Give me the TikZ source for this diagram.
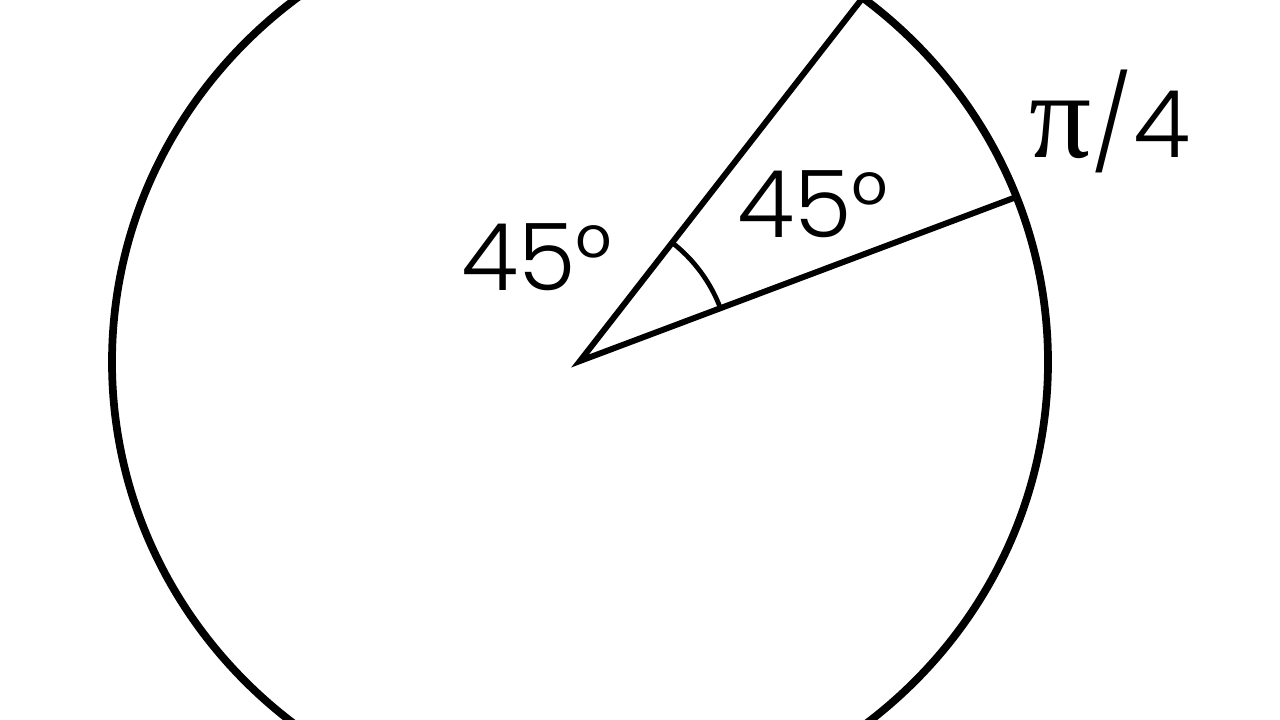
\documentclass[tikz,border=0pt]{standalone}
\usepackage{fontspec}
\setmainfont{Poppins Light}
\newfontfamily\pifont{Liberation Serif}
\tikzset{
  rim/.style={line width=2.2pt},
  radius line/.style={line width=1.7pt, line join=miter},
  angle mark/.style={line width=1.35pt},
  deg label/.style={font=\fontsize{26.5}{30}\selectfont, inner sep=0pt},
}
\begin{document}
\begin{tikzpicture}

  \useasboundingbox (-5.80,-3.59) rectangle (7.00,3.61);

  % circle and the two radii
  \coordinate (O) at (0,0);
  \coordinate (A) at (52.1:4.61);
  \coordinate (B) at (20.6:4.65);
  \draw[rim] (0,-0.01) ellipse [x radius=4.68, y radius=4.57];
  \draw[radius line] (A) -- (O) -- (B);
  \draw[angle mark] (20.6:1.50) arc [start angle=20.6, end angle=52.1, radius=1.50];

  \begin{scope}[every node/.style={deg label}]
    \node (outer) at (-0.43,1.04) {45°};
    \node (inner) at (2.33,1.57)  {45°};
    \node (rad)   at (5.30,2.40)  {{\pifont\fontsize{35}{38}\selectfont π}/4};
  \end{scope}

\end{tikzpicture}
\end{document}
